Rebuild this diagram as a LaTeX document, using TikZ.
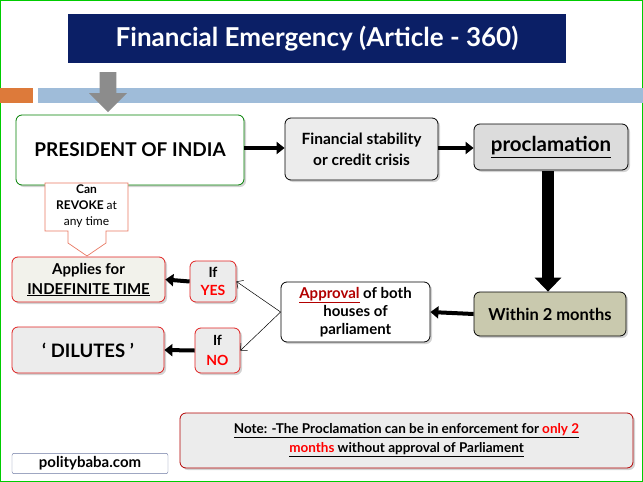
\documentclass[tikz,border=0pt]{standalone}
\usepackage{fontspec}
\setmainfont{Lato}
\usetikzlibrary{shapes.arrows,arrows.meta,shadows}
\definecolor{navy}{HTML}{0B1F66}
\definecolor{lblue}{HTML}{9FBCD9}
\definecolor{orng}{HTML}{DD7A3A}
\definecolor{boxg}{HTML}{ECECEC}
\definecolor{olive}{HTML}{C9C9AE}
\definecolor{redb}{HTML}{E02020}
\begin{document}
\begin{tikzpicture}[x=1pt,y=-1pt,
 box/.style={draw,rounded corners=6pt,line width=0.8pt,align=center,font=\bfseries,drop shadow={opacity=0.35,shadow xshift=2pt,shadow yshift=-2pt}},
 thick arr/.style={-{Triangle[length=8pt,width=12pt]},line width=4pt},
 thin arr/.style={-{Straight Barb[length=5pt]},line width=0.5pt}]
\useasboundingbox (0,0) rectangle (643,482);
\draw[green!80!black,line width=1.2pt] (0.6,0.6) rectangle (642.4,481.4);
\node[fill=navy,minimum width=498,minimum height=49,text=white,font=\bfseries\fontsize{26}{30}\selectfont] (title) at (317,38.5) {Financial Emergency (Article - 360)};
\fill[orng] (0,88) rectangle (33,103);
\fill[lblue] (38,88) rectangle (643,103);
\node[single arrow,shape border rotate=270,fill=gray!90,minimum height=40,minimum width=38,single arrow head extend=4pt,inner sep=3pt] (garr) at (108,88) {};
\node[box,draw=green!50!black,fill=white,minimum width=228,minimum height=70,font=\bfseries\fontsize{19}{22}\selectfont] (pres) at (130,150) {PRESIDENT OF INDIA};
\node[box,fill=boxg,minimum width=153,minimum height=62,font=\bfseries\fontsize{15.5}{21}\selectfont] (fin) at (361.5,149) {Financial stability\\or credit crisis};
\node[box,fill=boxg!85!gray,minimum width=154,minimum height=46,font=\bfseries\fontsize{20.5}{23}\selectfont] (proc) at (551,147) {\underline{proclamation}};
\node[box,fill=olive,minimum width=152,minimum height=44,font=\bfseries\fontsize{16.5}{19}\selectfont] (within) at (550,314) {Within 2 months};
\node[box,fill=white,minimum width=149,minimum height=60,font=\bfseries\fontsize{15}{18}\selectfont] (appr) at (355.5,312) {\textcolor{red!70!black}{\underline{Approval}} of both\\houses of\\parliament};
\node[box,draw=redb,fill=boxg,minimum width=46,minimum height=41,font=\bfseries\fontsize{14}{18}\selectfont] (yes) at (213,281.5) {If\\\textcolor{red}{YES}};
\node[box,draw=redb,fill=boxg,minimum width=45,minimum height=45,font=\bfseries\fontsize{14}{20}\selectfont] (no) at (217.5,350.5) {If\\\textcolor{red}{NO}};
\node[box,draw=redb,fill=olive!25,minimum width=153,minimum height=45,font=\bfseries\fontsize{15}{20}\selectfont] (app) at (88.5,279.5) {Applies for\\\underline{INDEFINITE TIME}};
\node[box,draw=redb,fill=boxg,minimum width=152,minimum height=46,font=\bfseries\fontsize{18.5}{22}\selectfont] (dil) at (88,350) {‘ DILUTES ’};
\draw[thick arr] (pres.east|-0,148) -- (fin.west|-0,148);
\draw[thick arr] (fin.east|-0,148) -- (proc.west|-0,148);
\draw[-{Triangle[length=14pt,width=26pt]},line width=12pt] (548,171) -- (within.north-|548,0);
\draw[thick arr] (within.west) -- (appr.east);
\draw[thin arr] (appr.west) -- (yes.east);
\draw[thin arr] (appr.west) -- (no.east);
\draw[thick arr] (yes.west) -- (app.east);
\draw[thick arr] (no.west) -- (dil.east);
\coordinate (tip) at (87,256);
\draw[draw=red!50!brown!70,fill=white,line width=0.7pt] (45,183) -- (128,183) -- (128,231) -- (106,231) -- (106,243) -- (tip) -- (68,243) -- (68,231) -- (45,231) -- cycle;
\node[align=center,font=\fontsize{12}{16}\selectfont\bfseries] (rev) at (86.5,206) {Can\\REVOKE \mdseries at\\\mdseries any time};
\node[box,draw=red!70!black,fill=boxg,minimum width=453,minimum height=55,font=\bfseries\fontsize{13.5}{19}\selectfont] (note) at (406.5,440.5) {\underline{Note: -The Proclamation can be in enforcement for \textcolor{red}{only 2}}\\\underline{\textcolor{red}{months} without approval of Parliament}};
\node[draw=navy!60,rounded corners=2pt,fill=white,minimum width=156,minimum height=20,font=\bfseries\fontsize{15}{16}\selectfont] (pb) at (90,463.5) {politybaba.com};
\end{tikzpicture}
\end{document}
